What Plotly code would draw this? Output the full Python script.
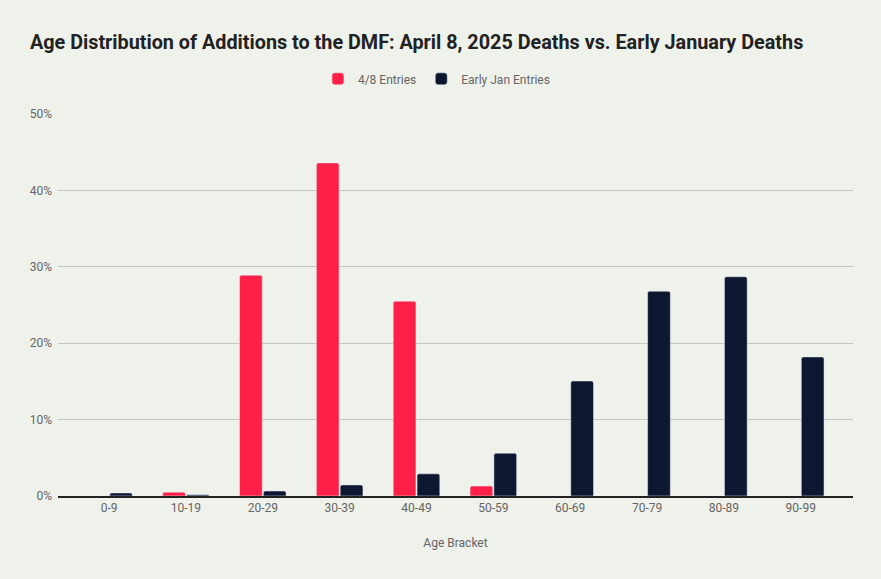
import plotly.graph_objects as go

brackets = ["0-9", "10-19", "20-29", "30-39", "40-49", "50-59", "60-69", "70-79", "80-89", "90-99"]
april_entries = [0, 0.5, 28.9, 43.6, 25.5, 1.3, 0, 0, 0, 0]
jan_entries = [0.4, 0.15, 0.65, 1.45, 2.9, 5.6, 15.05, 26.8, 28.7, 18.2]

bg = "#eff1eb"

fig = go.Figure()
fig.add_trace(go.Bar(x=brackets, y=april_entries, name="4/8 Entries",
                     marker=dict(color="#ff1f47", cornerradius=2)))
fig.add_trace(go.Bar(x=brackets, y=jan_entries, name="Early Jan Entries",
                     marker=dict(color="#0e1730", cornerradius=2)))

fig.update_layout(
    width=881, height=579,
    paper_bgcolor=bg, plot_bgcolor=bg,
    font=dict(family="Roboto", size=12, color="#666666"),
    title=dict(text="<b>Age Distribution of Additions to the DMF: April 8, 2025 Deaths vs. Early January Deaths</b>",
               x=0.034, xanchor="left", y=0.927, yanchor="middle",
               font=dict(family="Roboto", size=19.8, color="#222222")),
    legend=dict(orientation="h", x=0.476, xanchor="center", y=1.092, yanchor="middle",
                font=dict(size=12, color="#666666"), itemwidth=30, tracegroupgap=0),
    margin=dict(l=58, r=28, t=114, b=83),
    barmode="group", bargap=0.379, bargroupgap=0.048,
    showlegend=True,
)
fig.update_xaxes(title=dict(text="Age Bracket", font=dict(size=12, color="#666666"), standoff=24),
                 range=[-0.665, 9.68],
                 showline=True, linecolor="#222222", linewidth=1.5, ticks="", showgrid=False)
fig.update_yaxes(range=[0, 50], dtick=10, ticksuffix="%", showgrid=True, gridcolor="#c4c6c2",
                 zeroline=False, showline=False, ticks="", ticklabelstandoff=5)

fig.write_html("out.html", config={"displayModeBar": False},
               post_script="document.body.style.margin='0';")
